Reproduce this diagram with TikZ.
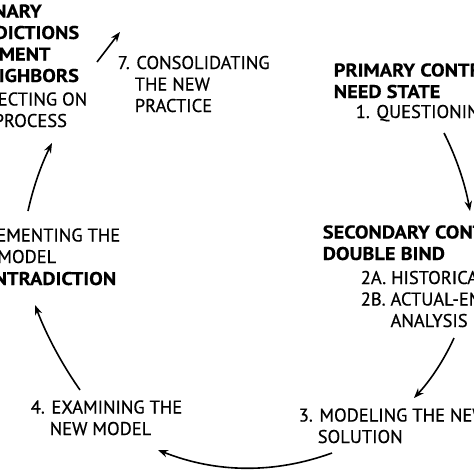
\documentclass[tikz,border=0pt]{standalone}
\usepackage{fontspec}
\setmainfont{PT Sans}[UprightFeatures={FakeBold=0.6},BoldFeatures={FakeStretch=1.1,FakeBold=0.4}]
\usetikzlibrary{arrows.meta}
\newcommand{\ind}[1]{\phantom{#1~}}

\begin{document}
\begin{tikzpicture}
      [x=1pt,y=-1pt,line width=1.6pt,
      stage/.style={inner sep=0pt,align=left,anchor=base west,
        font=\fontsize{18.5}{21.5}\selectfont},
      conflict/.style={stage,font=\fontsize{18.5}{21.5}\selectfont\bfseries},
      cycle arrow/.style={-{Stealth[length=10pt,width=7.5pt]}}]
      \useasboundingbox (0,0) rectangle (474,474);
      \clip (0,0) rectangle (474,474);
      % contradictions (placed at the baseline of their last line)
      \node[conflict,anchor=base east] (quat) at (80,82) {QUATERNARY\\CONTRADICTIONS\\REALIGNMENT\\WITH NEIGHBORS};
      \node[conflict] (prim) at (333,98) {PRIMARY CONTRADICTION\\NEED STATE};
      \node[conflict] (sec) at (322,260) {SECONDARY CONTRADICTION\\DOUBLE BIND};
      \node[conflict,anchor=base east] (tert) at (117,285) {TERTIARY CONTRADICTION};
      % stages
      \node[stage] (s1) at (355,118) {1. QUESTIONING};
      \node[stage] (s2) at (360,327) {2A. HISTORICAL ANALYSIS\\2B. ACTUAL-EMPIRICAL\\\ind{2B.}ANALYSIS};
      \node[stage] (s3) at (298,443) {3. MODELING THE NEW\\\ind{3.}SOLUTION};
      \node[stage] (s4) at (30,435) {4. EXAMINING THE\\\ind{4.}NEW MODEL};
      \node[stage,anchor=base east] (s5) at (121,263) {5. IMPLEMENTING THE\\\ind{5.}NEW MODEL};
      \node[stage,anchor=base east] (s6) at (88,127) {6. REFLECTING ON\\\ind{6.}THE PROCESS};
      \node[stage] (s7) at (117,112) {7. CONSOLIDATING\\\ind{7.}THE NEW\\\ind{7.}PRACTICE};
      % arrow ends
      \coordinate (a12) at (444,133);
      \coordinate (b12) at (470,211);
      \coordinate (a23) at (454,338);
      \coordinate (b23) at (414,398);
      \coordinate (a34) at (332,453);
      \coordinate (b34) at (158,450);
      \coordinate (a45) at (80,390);
      \coordinate (b45) at (35,305);
      \coordinate (a56) at (28,211);
      \coordinate (b56) at (52,143);
      \coordinate (a67) at (97,62);
      \coordinate (b67) at (120,32);
      \draw[cycle arrow] (a12) .. controls (456.5,157.7) and (465,183.7) .. (b12);
      \draw[cycle arrow] (a23) .. controls (444,360) and (430.6,380.2) .. (b23);
      \draw[cycle arrow] (a34) .. controls (274,474) and (216,473) .. (b34);
      \draw[cycle arrow] (a45) .. controls (61.5,363.6) and (46.5,335.2) .. (b45);
      \draw[cycle arrow] (a56) .. controls (33.2,187.3) and (41.2,164.7) .. (b56);
      \draw[cycle arrow] (a67) -- (b67);
\end{tikzpicture}
\end{document}
